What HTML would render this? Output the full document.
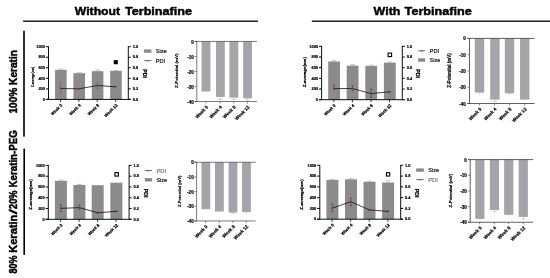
<!DOCTYPE html>
<html lang="en">
<head>
<meta charset="utf-8">
<title>Particle size, PDI and Z-potential stability</title>
<style>
html,body{margin:0;padding:0;background:#fff;}
body{width:550px;height:278px;overflow:hidden;font-family:'Liberation Sans', sans-serif;}
svg{display:block;font-family:'Liberation Sans', sans-serif;}
</style>
</head>
<body>
<svg width="550" height="278" viewBox="0 0 550 278">
<rect x="0" y="0" width="550" height="278" fill="#fff"/>
<rect x="55.05" y="69.80" width="11.60" height="29.60" fill="#8b8b8b"/>
<line x1="60.85" y1="69.80" x2="60.85" y2="68.90" stroke="#888" stroke-width="0.45" stroke-linecap="butt"/>
<line x1="58.25" y1="68.90" x2="63.45" y2="68.90" stroke="#888" stroke-width="0.45" stroke-linecap="butt"/>
<rect x="73.40" y="73.20" width="11.60" height="26.20" fill="#8b8b8b"/>
<line x1="79.20" y1="73.20" x2="79.20" y2="72.70" stroke="#888" stroke-width="0.45" stroke-linecap="butt"/>
<line x1="76.60" y1="72.70" x2="81.80" y2="72.70" stroke="#888" stroke-width="0.45" stroke-linecap="butt"/>
<rect x="91.80" y="71.20" width="11.60" height="28.20" fill="#8b8b8b"/>
<line x1="97.60" y1="71.20" x2="97.60" y2="70.10" stroke="#888" stroke-width="0.45" stroke-linecap="butt"/>
<line x1="95.00" y1="70.10" x2="100.20" y2="70.10" stroke="#888" stroke-width="0.45" stroke-linecap="butt"/>
<rect x="110.15" y="70.80" width="11.60" height="28.60" fill="#8b8b8b"/>
<line x1="115.95" y1="70.80" x2="115.95" y2="70.40" stroke="#888" stroke-width="0.45" stroke-linecap="butt"/>
<line x1="113.35" y1="70.40" x2="118.55" y2="70.40" stroke="#888" stroke-width="0.45" stroke-linecap="butt"/>
<line x1="48.50" y1="46.30" x2="48.50" y2="99.80" stroke="#000" stroke-width="0.95" stroke-linecap="butt"/>
<line x1="128.30" y1="46.30" x2="128.30" y2="99.80" stroke="#000" stroke-width="0.95" stroke-linecap="butt"/>
<line x1="45.90" y1="99.40" x2="130.70" y2="99.40" stroke="#000" stroke-width="0.95" stroke-linecap="butt"/>
<line x1="45.90" y1="99.40" x2="48.50" y2="99.40" stroke="#000" stroke-width="1.0" stroke-linecap="butt"/>
<text x="44.90" y="100.61" font-size="3.9" font-weight="bold" text-anchor="end" fill="#000" stroke="#000" stroke-width="0.20" stroke-linejoin="round">0</text>
<line x1="45.90" y1="88.86" x2="48.50" y2="88.86" stroke="#000" stroke-width="1.0" stroke-linecap="butt"/>
<text x="44.90" y="90.07" font-size="3.9" font-weight="bold" text-anchor="end" fill="#000" stroke="#000" stroke-width="0.20" stroke-linejoin="round">200</text>
<line x1="45.90" y1="78.32" x2="48.50" y2="78.32" stroke="#000" stroke-width="1.0" stroke-linecap="butt"/>
<text x="44.90" y="79.53" font-size="3.9" font-weight="bold" text-anchor="end" fill="#000" stroke="#000" stroke-width="0.20" stroke-linejoin="round">400</text>
<line x1="45.90" y1="67.78" x2="48.50" y2="67.78" stroke="#000" stroke-width="1.0" stroke-linecap="butt"/>
<text x="44.90" y="68.99" font-size="3.9" font-weight="bold" text-anchor="end" fill="#000" stroke="#000" stroke-width="0.20" stroke-linejoin="round">600</text>
<line x1="45.90" y1="57.24" x2="48.50" y2="57.24" stroke="#000" stroke-width="1.0" stroke-linecap="butt"/>
<text x="44.90" y="58.45" font-size="3.9" font-weight="bold" text-anchor="end" fill="#000" stroke="#000" stroke-width="0.20" stroke-linejoin="round">800</text>
<line x1="45.90" y1="46.70" x2="48.50" y2="46.70" stroke="#000" stroke-width="1.0" stroke-linecap="butt"/>
<text x="44.90" y="47.91" font-size="3.9" font-weight="bold" text-anchor="end" fill="#000" stroke="#000" stroke-width="0.20" stroke-linejoin="round">1000</text>
<line x1="128.30" y1="99.40" x2="130.70" y2="99.40" stroke="#000" stroke-width="1.0" stroke-linecap="butt"/>
<text x="132.70" y="100.61" font-size="3.9" font-weight="bold" text-anchor="start" fill="#000" stroke="#000" stroke-width="0.20" stroke-linejoin="round">0.0</text>
<line x1="128.30" y1="88.86" x2="130.70" y2="88.86" stroke="#000" stroke-width="1.0" stroke-linecap="butt"/>
<text x="132.70" y="90.07" font-size="3.9" font-weight="bold" text-anchor="start" fill="#000" stroke="#000" stroke-width="0.20" stroke-linejoin="round">0.2</text>
<line x1="128.30" y1="78.32" x2="130.70" y2="78.32" stroke="#000" stroke-width="1.0" stroke-linecap="butt"/>
<text x="132.70" y="79.53" font-size="3.9" font-weight="bold" text-anchor="start" fill="#000" stroke="#000" stroke-width="0.20" stroke-linejoin="round">0.4</text>
<line x1="128.30" y1="67.78" x2="130.70" y2="67.78" stroke="#000" stroke-width="1.0" stroke-linecap="butt"/>
<text x="132.70" y="68.99" font-size="3.9" font-weight="bold" text-anchor="start" fill="#000" stroke="#000" stroke-width="0.20" stroke-linejoin="round">0.6</text>
<line x1="128.30" y1="57.24" x2="130.70" y2="57.24" stroke="#000" stroke-width="1.0" stroke-linecap="butt"/>
<text x="132.70" y="58.45" font-size="3.9" font-weight="bold" text-anchor="start" fill="#000" stroke="#000" stroke-width="0.20" stroke-linejoin="round">0.8</text>
<line x1="128.30" y1="46.70" x2="130.70" y2="46.70" stroke="#000" stroke-width="1.0" stroke-linecap="butt"/>
<text x="132.70" y="47.91" font-size="3.9" font-weight="bold" text-anchor="start" fill="#000" stroke="#000" stroke-width="0.20" stroke-linejoin="round">1.0</text>
<line x1="60.50" y1="99.40" x2="60.50" y2="101.90" stroke="#000" stroke-width="0.8" stroke-linecap="butt"/>
<text x="62.70" y="105.60" font-size="4.2" font-weight="bold" text-anchor="end" fill="#000" transform="rotate(-45 62.70 105.60)" stroke="#000" stroke-width="0.21" stroke-linejoin="round">Week 0</text>
<line x1="78.90" y1="99.40" x2="78.90" y2="101.90" stroke="#000" stroke-width="0.8" stroke-linecap="butt"/>
<text x="81.10" y="105.60" font-size="4.2" font-weight="bold" text-anchor="end" fill="#000" transform="rotate(-45 81.10 105.60)" stroke="#000" stroke-width="0.21" stroke-linejoin="round">Week 4</text>
<line x1="97.30" y1="99.40" x2="97.30" y2="101.90" stroke="#000" stroke-width="0.8" stroke-linecap="butt"/>
<text x="99.50" y="105.60" font-size="4.2" font-weight="bold" text-anchor="end" fill="#000" transform="rotate(-45 99.50 105.60)" stroke="#000" stroke-width="0.21" stroke-linejoin="round">Week 8</text>
<line x1="115.70" y1="99.40" x2="115.70" y2="101.90" stroke="#000" stroke-width="0.8" stroke-linecap="butt"/>
<text x="117.90" y="105.60" font-size="4.2" font-weight="bold" text-anchor="end" fill="#000" transform="rotate(-45 117.90 105.60)" stroke="#000" stroke-width="0.21" stroke-linejoin="round">Week 12</text>
<line x1="60.50" y1="83.10" x2="60.50" y2="93.50" stroke="#5a5a5a" stroke-width="0.5" stroke-linecap="butt"/>
<line x1="59.50" y1="83.10" x2="61.50" y2="83.10" stroke="#5a5a5a" stroke-width="0.45" stroke-linecap="butt"/>
<line x1="59.50" y1="93.50" x2="61.50" y2="93.50" stroke="#5a5a5a" stroke-width="0.45" stroke-linecap="butt"/>
<line x1="78.80" y1="88.20" x2="78.80" y2="89.40" stroke="#5a5a5a" stroke-width="0.5" stroke-linecap="butt"/>
<line x1="77.80" y1="88.20" x2="79.80" y2="88.20" stroke="#5a5a5a" stroke-width="0.45" stroke-linecap="butt"/>
<line x1="77.80" y1="89.40" x2="79.80" y2="89.40" stroke="#5a5a5a" stroke-width="0.45" stroke-linecap="butt"/>
<line x1="97.50" y1="82.30" x2="97.50" y2="88.80" stroke="#5a5a5a" stroke-width="0.5" stroke-linecap="butt"/>
<line x1="96.50" y1="82.30" x2="98.50" y2="82.30" stroke="#5a5a5a" stroke-width="0.45" stroke-linecap="butt"/>
<line x1="96.50" y1="88.80" x2="98.50" y2="88.80" stroke="#5a5a5a" stroke-width="0.45" stroke-linecap="butt"/>
<line x1="115.60" y1="86.20" x2="115.60" y2="87.40" stroke="#5a5a5a" stroke-width="0.5" stroke-linecap="butt"/>
<line x1="114.60" y1="86.20" x2="116.60" y2="86.20" stroke="#5a5a5a" stroke-width="0.45" stroke-linecap="butt"/>
<line x1="114.60" y1="87.40" x2="116.60" y2="87.40" stroke="#5a5a5a" stroke-width="0.45" stroke-linecap="butt"/>
<polyline points="60.50,88.50 78.80,88.80 97.50,85.50 115.60,86.80" fill="none" stroke="#111" stroke-width="0.8"/>
<circle cx="60.50" cy="88.50" r="0.8" fill="#d8141f"/>
<circle cx="78.80" cy="88.80" r="0.8" fill="#d8141f"/>
<circle cx="97.50" cy="85.50" r="0.8" fill="#d8141f"/>
<circle cx="115.60" cy="86.80" r="0.8" fill="#d8141f"/>
<rect x="113.75" y="60.15" width="4.10" height="4.10" fill="#000"/>
<text x="33.50" y="77.00" font-size="2.9" font-weight="bold" text-anchor="middle" fill="#000" transform="rotate(-90 33.50 77.00)" stroke="#000" stroke-width="0.14" stroke-linejoin="round">Z-average(nm)</text>
<text x="142.90" y="73.60" font-size="5.2" font-weight="bold" text-anchor="middle" fill="#000" transform="rotate(90 142.90 73.60)" stroke="#000" stroke-width="0.26" stroke-linejoin="round">PDI</text>
<rect x="143.90" y="49.40" width="7.50" height="3.40" fill="#8b8b8b"/>
<text x="155.80" y="53.10" font-size="5.6" font-weight="normal" text-anchor="start" fill="#111" stroke="#111" stroke-width="0.18" stroke-linejoin="round">Size</text>
<line x1="143.90" y1="60.60" x2="151.40" y2="60.60" stroke="#333" stroke-width="0.7" stroke-linecap="butt"/>
<circle cx="147.65" cy="60.80" r="0.8" fill="#e8101c"/>
<text x="155.80" y="62.60" font-size="5.6" font-weight="normal" text-anchor="start" fill="#111" stroke="#111" stroke-width="0.18" stroke-linejoin="round">PDI</text>
<rect x="328.20" y="61.50" width="11.80" height="38.20" fill="#8b8b8b"/>
<line x1="334.10" y1="61.50" x2="334.10" y2="60.40" stroke="#888" stroke-width="0.45" stroke-linecap="butt"/>
<line x1="331.50" y1="60.40" x2="336.70" y2="60.40" stroke="#888" stroke-width="0.45" stroke-linecap="butt"/>
<rect x="346.70" y="65.60" width="11.80" height="34.10" fill="#8b8b8b"/>
<line x1="352.60" y1="65.60" x2="352.60" y2="64.60" stroke="#888" stroke-width="0.45" stroke-linecap="butt"/>
<line x1="350.00" y1="64.60" x2="355.20" y2="64.60" stroke="#888" stroke-width="0.45" stroke-linecap="butt"/>
<rect x="365.30" y="65.90" width="11.80" height="33.80" fill="#8b8b8b"/>
<line x1="371.20" y1="65.90" x2="371.20" y2="65.10" stroke="#888" stroke-width="0.45" stroke-linecap="butt"/>
<line x1="368.60" y1="65.10" x2="373.80" y2="65.10" stroke="#888" stroke-width="0.45" stroke-linecap="butt"/>
<rect x="383.90" y="62.70" width="11.80" height="37.00" fill="#8b8b8b"/>
<line x1="389.80" y1="62.70" x2="389.80" y2="62.00" stroke="#888" stroke-width="0.45" stroke-linecap="butt"/>
<line x1="387.20" y1="62.00" x2="392.40" y2="62.00" stroke="#888" stroke-width="0.45" stroke-linecap="butt"/>
<line x1="321.60" y1="45.90" x2="321.60" y2="100.10" stroke="#000" stroke-width="0.95" stroke-linecap="butt"/>
<line x1="402.30" y1="45.90" x2="402.30" y2="100.10" stroke="#000" stroke-width="0.95" stroke-linecap="butt"/>
<line x1="319.00" y1="99.70" x2="404.70" y2="99.70" stroke="#000" stroke-width="0.95" stroke-linecap="butt"/>
<line x1="319.00" y1="99.70" x2="321.60" y2="99.70" stroke="#000" stroke-width="1.0" stroke-linecap="butt"/>
<text x="318.00" y="100.91" font-size="3.9" font-weight="bold" text-anchor="end" fill="#000" stroke="#000" stroke-width="0.20" stroke-linejoin="round">0</text>
<line x1="319.00" y1="89.02" x2="321.60" y2="89.02" stroke="#000" stroke-width="1.0" stroke-linecap="butt"/>
<text x="318.00" y="90.23" font-size="3.9" font-weight="bold" text-anchor="end" fill="#000" stroke="#000" stroke-width="0.20" stroke-linejoin="round">200</text>
<line x1="319.00" y1="78.34" x2="321.60" y2="78.34" stroke="#000" stroke-width="1.0" stroke-linecap="butt"/>
<text x="318.00" y="79.55" font-size="3.9" font-weight="bold" text-anchor="end" fill="#000" stroke="#000" stroke-width="0.20" stroke-linejoin="round">400</text>
<line x1="319.00" y1="67.66" x2="321.60" y2="67.66" stroke="#000" stroke-width="1.0" stroke-linecap="butt"/>
<text x="318.00" y="68.87" font-size="3.9" font-weight="bold" text-anchor="end" fill="#000" stroke="#000" stroke-width="0.20" stroke-linejoin="round">600</text>
<line x1="319.00" y1="56.98" x2="321.60" y2="56.98" stroke="#000" stroke-width="1.0" stroke-linecap="butt"/>
<text x="318.00" y="58.19" font-size="3.9" font-weight="bold" text-anchor="end" fill="#000" stroke="#000" stroke-width="0.20" stroke-linejoin="round">800</text>
<line x1="319.00" y1="46.30" x2="321.60" y2="46.30" stroke="#000" stroke-width="1.0" stroke-linecap="butt"/>
<text x="318.00" y="47.51" font-size="3.9" font-weight="bold" text-anchor="end" fill="#000" stroke="#000" stroke-width="0.20" stroke-linejoin="round">1000</text>
<line x1="402.30" y1="99.70" x2="404.70" y2="99.70" stroke="#000" stroke-width="1.0" stroke-linecap="butt"/>
<text x="406.70" y="100.91" font-size="3.9" font-weight="bold" text-anchor="start" fill="#000" stroke="#000" stroke-width="0.20" stroke-linejoin="round">0.0</text>
<line x1="402.30" y1="89.02" x2="404.70" y2="89.02" stroke="#000" stroke-width="1.0" stroke-linecap="butt"/>
<text x="406.70" y="90.23" font-size="3.9" font-weight="bold" text-anchor="start" fill="#000" stroke="#000" stroke-width="0.20" stroke-linejoin="round">0.2</text>
<line x1="402.30" y1="78.34" x2="404.70" y2="78.34" stroke="#000" stroke-width="1.0" stroke-linecap="butt"/>
<text x="406.70" y="79.55" font-size="3.9" font-weight="bold" text-anchor="start" fill="#000" stroke="#000" stroke-width="0.20" stroke-linejoin="round">0.4</text>
<line x1="402.30" y1="67.66" x2="404.70" y2="67.66" stroke="#000" stroke-width="1.0" stroke-linecap="butt"/>
<text x="406.70" y="68.87" font-size="3.9" font-weight="bold" text-anchor="start" fill="#000" stroke="#000" stroke-width="0.20" stroke-linejoin="round">0.6</text>
<line x1="402.30" y1="56.98" x2="404.70" y2="56.98" stroke="#000" stroke-width="1.0" stroke-linecap="butt"/>
<text x="406.70" y="58.19" font-size="3.9" font-weight="bold" text-anchor="start" fill="#000" stroke="#000" stroke-width="0.20" stroke-linejoin="round">0.8</text>
<line x1="402.30" y1="46.30" x2="404.70" y2="46.30" stroke="#000" stroke-width="1.0" stroke-linecap="butt"/>
<text x="406.70" y="47.51" font-size="3.9" font-weight="bold" text-anchor="start" fill="#000" stroke="#000" stroke-width="0.20" stroke-linejoin="round">1.0</text>
<line x1="333.80" y1="99.70" x2="333.80" y2="102.20" stroke="#000" stroke-width="0.8" stroke-linecap="butt"/>
<text x="336.00" y="105.90" font-size="4.2" font-weight="bold" text-anchor="end" fill="#000" transform="rotate(-45 336.00 105.90)" stroke="#000" stroke-width="0.21" stroke-linejoin="round">Week 0</text>
<line x1="352.40" y1="99.70" x2="352.40" y2="102.20" stroke="#000" stroke-width="0.8" stroke-linecap="butt"/>
<text x="354.60" y="105.90" font-size="4.2" font-weight="bold" text-anchor="end" fill="#000" transform="rotate(-45 354.60 105.90)" stroke="#000" stroke-width="0.21" stroke-linejoin="round">Week 4</text>
<line x1="371.00" y1="99.70" x2="371.00" y2="102.20" stroke="#000" stroke-width="0.8" stroke-linecap="butt"/>
<text x="373.20" y="105.90" font-size="4.2" font-weight="bold" text-anchor="end" fill="#000" transform="rotate(-45 373.20 105.90)" stroke="#000" stroke-width="0.21" stroke-linejoin="round">Week 8</text>
<line x1="389.50" y1="99.70" x2="389.50" y2="102.20" stroke="#000" stroke-width="0.8" stroke-linecap="butt"/>
<text x="391.70" y="105.90" font-size="4.2" font-weight="bold" text-anchor="end" fill="#000" transform="rotate(-45 391.70 105.90)" stroke="#000" stroke-width="0.21" stroke-linejoin="round">Week 12</text>
<line x1="333.90" y1="85.00" x2="333.90" y2="89.20" stroke="#2a2a2a" stroke-width="0.5" stroke-linecap="butt"/>
<line x1="332.90" y1="85.00" x2="334.90" y2="85.00" stroke="#2a2a2a" stroke-width="0.45" stroke-linecap="butt"/>
<line x1="332.90" y1="89.20" x2="334.90" y2="89.20" stroke="#2a2a2a" stroke-width="0.45" stroke-linecap="butt"/>
<line x1="352.50" y1="85.70" x2="352.50" y2="90.90" stroke="#2a2a2a" stroke-width="0.5" stroke-linecap="butt"/>
<line x1="351.50" y1="85.70" x2="353.50" y2="85.70" stroke="#2a2a2a" stroke-width="0.45" stroke-linecap="butt"/>
<line x1="351.50" y1="90.90" x2="353.50" y2="90.90" stroke="#2a2a2a" stroke-width="0.45" stroke-linecap="butt"/>
<line x1="371.10" y1="88.90" x2="371.10" y2="97.60" stroke="#2a2a2a" stroke-width="0.5" stroke-linecap="butt"/>
<line x1="370.10" y1="88.90" x2="372.10" y2="88.90" stroke="#2a2a2a" stroke-width="0.45" stroke-linecap="butt"/>
<line x1="370.10" y1="97.60" x2="372.10" y2="97.60" stroke="#2a2a2a" stroke-width="0.45" stroke-linecap="butt"/>
<line x1="389.60" y1="91.20" x2="389.60" y2="92.40" stroke="#2a2a2a" stroke-width="0.5" stroke-linecap="butt"/>
<line x1="388.60" y1="91.20" x2="390.60" y2="91.20" stroke="#2a2a2a" stroke-width="0.45" stroke-linecap="butt"/>
<line x1="388.60" y1="92.40" x2="390.60" y2="92.40" stroke="#2a2a2a" stroke-width="0.45" stroke-linecap="butt"/>
<polyline points="333.90,88.60 352.50,88.50 371.10,93.60 389.60,91.80" fill="none" stroke="#111" stroke-width="0.8"/>
<circle cx="333.90" cy="88.60" r="0.8" fill="#d8141f"/>
<circle cx="352.50" cy="88.50" r="0.8" fill="#d8141f"/>
<circle cx="371.10" cy="93.60" r="0.8" fill="#d8141f"/>
<circle cx="389.60" cy="91.80" r="0.8" fill="#d8141f"/>
<rect x="388.10" y="53.10" width="3.50" height="3.50" fill="#fff" stroke="#000" stroke-width="1.1"/>
<text x="306.20" y="72.20" font-size="4.4" font-weight="bold" text-anchor="middle" fill="#000" transform="rotate(-90 306.20 72.20)" stroke="#000" stroke-width="0.22" stroke-linejoin="round">Z-average(nm)</text>
<text x="416.00" y="73.60" font-size="5.2" font-weight="bold" text-anchor="middle" fill="#000" transform="rotate(90 416.00 73.60)" stroke="#000" stroke-width="0.26" stroke-linejoin="round">PDI</text>
<line x1="418.10" y1="50.80" x2="425.20" y2="50.80" stroke="#333" stroke-width="0.7" stroke-linecap="butt"/>
<circle cx="421.65" cy="51.00" r="0.8" fill="#e8101c"/>
<text x="429.60" y="52.80" font-size="6.0" font-weight="normal" text-anchor="start" fill="#111" textLength="9.60" lengthAdjust="spacingAndGlyphs" stroke="#111" stroke-width="0.18" stroke-linejoin="round">PDI</text>
<rect x="418.10" y="58.30" width="7.10" height="3.40" fill="#8b8b8b"/>
<text x="429.60" y="62.00" font-size="6.0" font-weight="normal" text-anchor="start" fill="#111" textLength="10.60" lengthAdjust="spacingAndGlyphs" stroke="#111" stroke-width="0.18" stroke-linejoin="round">Size</text>
<rect x="54.90" y="180.80" width="12.00" height="38.50" fill="#8b8b8b"/>
<line x1="60.90" y1="180.80" x2="60.90" y2="180.00" stroke="#888" stroke-width="0.45" stroke-linecap="butt"/>
<line x1="58.30" y1="180.00" x2="63.50" y2="180.00" stroke="#888" stroke-width="0.45" stroke-linecap="butt"/>
<rect x="73.40" y="185.00" width="12.00" height="34.30" fill="#8b8b8b"/>
<line x1="79.40" y1="185.00" x2="79.40" y2="184.30" stroke="#888" stroke-width="0.45" stroke-linecap="butt"/>
<line x1="76.80" y1="184.30" x2="82.00" y2="184.30" stroke="#888" stroke-width="0.45" stroke-linecap="butt"/>
<rect x="91.70" y="185.20" width="12.00" height="34.10" fill="#8b8b8b"/>
<rect x="110.35" y="182.70" width="12.00" height="36.60" fill="#8b8b8b"/>
<line x1="48.30" y1="165.00" x2="48.30" y2="219.70" stroke="#000" stroke-width="0.95" stroke-linecap="butt"/>
<line x1="129.10" y1="165.00" x2="129.10" y2="219.70" stroke="#000" stroke-width="0.95" stroke-linecap="butt"/>
<line x1="45.70" y1="219.30" x2="131.50" y2="219.30" stroke="#000" stroke-width="0.95" stroke-linecap="butt"/>
<line x1="45.70" y1="219.30" x2="48.30" y2="219.30" stroke="#000" stroke-width="1.0" stroke-linecap="butt"/>
<text x="44.70" y="220.51" font-size="3.9" font-weight="bold" text-anchor="end" fill="#000" stroke="#000" stroke-width="0.20" stroke-linejoin="round">0</text>
<line x1="45.70" y1="208.52" x2="48.30" y2="208.52" stroke="#000" stroke-width="1.0" stroke-linecap="butt"/>
<text x="44.70" y="209.73" font-size="3.9" font-weight="bold" text-anchor="end" fill="#000" stroke="#000" stroke-width="0.20" stroke-linejoin="round">200</text>
<line x1="45.70" y1="197.74" x2="48.30" y2="197.74" stroke="#000" stroke-width="1.0" stroke-linecap="butt"/>
<text x="44.70" y="198.95" font-size="3.9" font-weight="bold" text-anchor="end" fill="#000" stroke="#000" stroke-width="0.20" stroke-linejoin="round">400</text>
<line x1="45.70" y1="186.96" x2="48.30" y2="186.96" stroke="#000" stroke-width="1.0" stroke-linecap="butt"/>
<text x="44.70" y="188.17" font-size="3.9" font-weight="bold" text-anchor="end" fill="#000" stroke="#000" stroke-width="0.20" stroke-linejoin="round">600</text>
<line x1="45.70" y1="176.18" x2="48.30" y2="176.18" stroke="#000" stroke-width="1.0" stroke-linecap="butt"/>
<text x="44.70" y="177.39" font-size="3.9" font-weight="bold" text-anchor="end" fill="#000" stroke="#000" stroke-width="0.20" stroke-linejoin="round">800</text>
<line x1="45.70" y1="165.40" x2="48.30" y2="165.40" stroke="#000" stroke-width="1.0" stroke-linecap="butt"/>
<text x="44.70" y="166.61" font-size="3.9" font-weight="bold" text-anchor="end" fill="#000" stroke="#000" stroke-width="0.20" stroke-linejoin="round">1000</text>
<line x1="129.10" y1="219.30" x2="131.50" y2="219.30" stroke="#000" stroke-width="1.0" stroke-linecap="butt"/>
<text x="133.50" y="220.51" font-size="3.9" font-weight="bold" text-anchor="start" fill="#000" stroke="#000" stroke-width="0.20" stroke-linejoin="round">0.0</text>
<line x1="129.10" y1="208.52" x2="131.50" y2="208.52" stroke="#000" stroke-width="1.0" stroke-linecap="butt"/>
<text x="133.50" y="209.73" font-size="3.9" font-weight="bold" text-anchor="start" fill="#000" stroke="#000" stroke-width="0.20" stroke-linejoin="round">0.2</text>
<line x1="129.10" y1="197.74" x2="131.50" y2="197.74" stroke="#000" stroke-width="1.0" stroke-linecap="butt"/>
<text x="133.50" y="198.95" font-size="3.9" font-weight="bold" text-anchor="start" fill="#000" stroke="#000" stroke-width="0.20" stroke-linejoin="round">0.4</text>
<line x1="129.10" y1="186.96" x2="131.50" y2="186.96" stroke="#000" stroke-width="1.0" stroke-linecap="butt"/>
<text x="133.50" y="188.17" font-size="3.9" font-weight="bold" text-anchor="start" fill="#000" stroke="#000" stroke-width="0.20" stroke-linejoin="round">0.6</text>
<line x1="129.10" y1="176.18" x2="131.50" y2="176.18" stroke="#000" stroke-width="1.0" stroke-linecap="butt"/>
<text x="133.50" y="177.39" font-size="3.9" font-weight="bold" text-anchor="start" fill="#000" stroke="#000" stroke-width="0.20" stroke-linejoin="round">0.8</text>
<line x1="129.10" y1="165.40" x2="131.50" y2="165.40" stroke="#000" stroke-width="1.0" stroke-linecap="butt"/>
<text x="133.50" y="166.61" font-size="3.9" font-weight="bold" text-anchor="start" fill="#000" stroke="#000" stroke-width="0.20" stroke-linejoin="round">1.0</text>
<line x1="60.60" y1="219.30" x2="60.60" y2="221.80" stroke="#000" stroke-width="0.8" stroke-linecap="butt"/>
<text x="62.80" y="225.50" font-size="4.2" font-weight="bold" text-anchor="end" fill="#000" transform="rotate(-45 62.80 225.50)" stroke="#000" stroke-width="0.21" stroke-linejoin="round">Week 0</text>
<line x1="79.10" y1="219.30" x2="79.10" y2="221.80" stroke="#000" stroke-width="0.8" stroke-linecap="butt"/>
<text x="81.30" y="225.50" font-size="4.2" font-weight="bold" text-anchor="end" fill="#000" transform="rotate(-45 81.30 225.50)" stroke="#000" stroke-width="0.21" stroke-linejoin="round">Week 4</text>
<line x1="97.60" y1="219.30" x2="97.60" y2="221.80" stroke="#000" stroke-width="0.8" stroke-linecap="butt"/>
<text x="99.80" y="225.50" font-size="4.2" font-weight="bold" text-anchor="end" fill="#000" transform="rotate(-45 99.80 225.50)" stroke="#000" stroke-width="0.21" stroke-linejoin="round">Week 8</text>
<line x1="116.10" y1="219.30" x2="116.10" y2="221.80" stroke="#000" stroke-width="0.8" stroke-linecap="butt"/>
<text x="118.30" y="225.50" font-size="4.2" font-weight="bold" text-anchor="end" fill="#000" transform="rotate(-45 118.30 225.50)" stroke="#000" stroke-width="0.21" stroke-linejoin="round">Week 12</text>
<line x1="60.70" y1="204.60" x2="60.70" y2="211.50" stroke="#2a2a2a" stroke-width="0.5" stroke-linecap="butt"/>
<line x1="59.70" y1="204.60" x2="61.70" y2="204.60" stroke="#2a2a2a" stroke-width="0.45" stroke-linecap="butt"/>
<line x1="59.70" y1="211.50" x2="61.70" y2="211.50" stroke="#2a2a2a" stroke-width="0.45" stroke-linecap="butt"/>
<line x1="79.30" y1="205.20" x2="79.30" y2="209.30" stroke="#2a2a2a" stroke-width="0.5" stroke-linecap="butt"/>
<line x1="78.30" y1="205.20" x2="80.30" y2="205.20" stroke="#2a2a2a" stroke-width="0.45" stroke-linecap="butt"/>
<line x1="78.30" y1="209.30" x2="80.30" y2="209.30" stroke="#2a2a2a" stroke-width="0.45" stroke-linecap="butt"/>
<line x1="97.80" y1="212.30" x2="97.80" y2="213.30" stroke="#2a2a2a" stroke-width="0.5" stroke-linecap="butt"/>
<line x1="96.80" y1="212.30" x2="98.80" y2="212.30" stroke="#2a2a2a" stroke-width="0.45" stroke-linecap="butt"/>
<line x1="96.80" y1="213.30" x2="98.80" y2="213.30" stroke="#2a2a2a" stroke-width="0.45" stroke-linecap="butt"/>
<line x1="116.50" y1="210.80" x2="116.50" y2="211.80" stroke="#2a2a2a" stroke-width="0.5" stroke-linecap="butt"/>
<line x1="115.50" y1="210.80" x2="117.50" y2="210.80" stroke="#2a2a2a" stroke-width="0.45" stroke-linecap="butt"/>
<line x1="115.50" y1="211.80" x2="117.50" y2="211.80" stroke="#2a2a2a" stroke-width="0.45" stroke-linecap="butt"/>
<polyline points="60.70,208.40 79.30,207.60 97.80,212.80 116.50,211.30" fill="none" stroke="#111" stroke-width="0.8"/>
<circle cx="60.70" cy="208.40" r="0.8" fill="#d8141f"/>
<circle cx="79.30" cy="207.60" r="0.8" fill="#d8141f"/>
<circle cx="97.80" cy="212.80" r="0.8" fill="#d8141f"/>
<circle cx="116.50" cy="211.30" r="0.8" fill="#d8141f"/>
<rect x="114.90" y="172.60" width="3.50" height="3.50" fill="#fff" stroke="#000" stroke-width="1.1"/>
<text x="32.40" y="194.50" font-size="4.4" font-weight="bold" text-anchor="middle" fill="#000" transform="rotate(-90 32.40 194.50)" stroke="#000" stroke-width="0.22" stroke-linejoin="round">Z-average(nm)</text>
<text x="144.00" y="193.00" font-size="5.2" font-weight="bold" text-anchor="middle" fill="#000" transform="rotate(90 144.00 193.00)" stroke="#000" stroke-width="0.26" stroke-linejoin="round">PDI</text>
<line x1="144.80" y1="170.50" x2="152.00" y2="170.50" stroke="#333" stroke-width="0.7" stroke-linecap="butt"/>
<circle cx="148.40" cy="170.70" r="0.8" fill="#e8101c"/>
<text x="156.40" y="172.50" font-size="5.9" font-weight="normal" text-anchor="start" fill="#777" textLength="9.80" lengthAdjust="spacingAndGlyphs" stroke="#777" stroke-width="0.18" stroke-linejoin="round">PDI</text>
<rect x="144.80" y="178.10" width="7.20" height="3.40" fill="#8b8b8b"/>
<text x="156.40" y="181.80" font-size="5.9" font-weight="normal" text-anchor="start" fill="#111" textLength="10.70" lengthAdjust="spacingAndGlyphs" stroke="#111" stroke-width="0.18" stroke-linejoin="round">Size</text>
<rect x="326.40" y="179.90" width="12.00" height="39.30" fill="#8b8b8b"/>
<line x1="332.40" y1="179.90" x2="332.40" y2="179.30" stroke="#888" stroke-width="0.45" stroke-linecap="butt"/>
<line x1="329.80" y1="179.30" x2="335.00" y2="179.30" stroke="#888" stroke-width="0.45" stroke-linecap="butt"/>
<rect x="345.00" y="179.30" width="12.00" height="39.90" fill="#8b8b8b"/>
<line x1="351.00" y1="179.30" x2="351.00" y2="178.70" stroke="#888" stroke-width="0.45" stroke-linecap="butt"/>
<line x1="348.40" y1="178.70" x2="353.60" y2="178.70" stroke="#888" stroke-width="0.45" stroke-linecap="butt"/>
<rect x="363.50" y="181.80" width="12.00" height="37.40" fill="#8b8b8b"/>
<line x1="369.50" y1="181.80" x2="369.50" y2="181.20" stroke="#888" stroke-width="0.45" stroke-linecap="butt"/>
<line x1="366.90" y1="181.20" x2="372.10" y2="181.20" stroke="#888" stroke-width="0.45" stroke-linecap="butt"/>
<rect x="382.10" y="182.50" width="12.00" height="36.70" fill="#8b8b8b"/>
<line x1="388.10" y1="182.50" x2="388.10" y2="180.80" stroke="#888" stroke-width="0.45" stroke-linecap="butt"/>
<line x1="385.50" y1="180.80" x2="390.70" y2="180.80" stroke="#888" stroke-width="0.45" stroke-linecap="butt"/>
<line x1="319.80" y1="164.90" x2="319.80" y2="219.60" stroke="#000" stroke-width="0.95" stroke-linecap="butt"/>
<line x1="400.70" y1="164.90" x2="400.70" y2="219.60" stroke="#000" stroke-width="0.95" stroke-linecap="butt"/>
<line x1="317.20" y1="219.20" x2="403.10" y2="219.20" stroke="#000" stroke-width="0.95" stroke-linecap="butt"/>
<line x1="317.20" y1="219.20" x2="319.80" y2="219.20" stroke="#000" stroke-width="1.0" stroke-linecap="butt"/>
<text x="316.20" y="220.41" font-size="3.9" font-weight="bold" text-anchor="end" fill="#000" stroke="#000" stroke-width="0.20" stroke-linejoin="round">0</text>
<line x1="317.20" y1="208.42" x2="319.80" y2="208.42" stroke="#000" stroke-width="1.0" stroke-linecap="butt"/>
<text x="316.20" y="209.63" font-size="3.9" font-weight="bold" text-anchor="end" fill="#000" stroke="#000" stroke-width="0.20" stroke-linejoin="round">200</text>
<line x1="317.20" y1="197.64" x2="319.80" y2="197.64" stroke="#000" stroke-width="1.0" stroke-linecap="butt"/>
<text x="316.20" y="198.85" font-size="3.9" font-weight="bold" text-anchor="end" fill="#000" stroke="#000" stroke-width="0.20" stroke-linejoin="round">400</text>
<line x1="317.20" y1="186.86" x2="319.80" y2="186.86" stroke="#000" stroke-width="1.0" stroke-linecap="butt"/>
<text x="316.20" y="188.07" font-size="3.9" font-weight="bold" text-anchor="end" fill="#000" stroke="#000" stroke-width="0.20" stroke-linejoin="round">600</text>
<line x1="317.20" y1="176.08" x2="319.80" y2="176.08" stroke="#000" stroke-width="1.0" stroke-linecap="butt"/>
<text x="316.20" y="177.29" font-size="3.9" font-weight="bold" text-anchor="end" fill="#000" stroke="#000" stroke-width="0.20" stroke-linejoin="round">800</text>
<line x1="317.20" y1="165.30" x2="319.80" y2="165.30" stroke="#000" stroke-width="1.0" stroke-linecap="butt"/>
<text x="316.20" y="166.51" font-size="3.9" font-weight="bold" text-anchor="end" fill="#000" stroke="#000" stroke-width="0.20" stroke-linejoin="round">1000</text>
<line x1="400.70" y1="219.20" x2="403.10" y2="219.20" stroke="#000" stroke-width="1.0" stroke-linecap="butt"/>
<text x="405.10" y="220.41" font-size="3.9" font-weight="bold" text-anchor="start" fill="#000" stroke="#000" stroke-width="0.20" stroke-linejoin="round">0.0</text>
<line x1="400.70" y1="208.42" x2="403.10" y2="208.42" stroke="#000" stroke-width="1.0" stroke-linecap="butt"/>
<text x="405.10" y="209.63" font-size="3.9" font-weight="bold" text-anchor="start" fill="#000" stroke="#000" stroke-width="0.20" stroke-linejoin="round">0.2</text>
<line x1="400.70" y1="197.64" x2="403.10" y2="197.64" stroke="#000" stroke-width="1.0" stroke-linecap="butt"/>
<text x="405.10" y="198.85" font-size="3.9" font-weight="bold" text-anchor="start" fill="#000" stroke="#000" stroke-width="0.20" stroke-linejoin="round">0.4</text>
<line x1="400.70" y1="186.86" x2="403.10" y2="186.86" stroke="#000" stroke-width="1.0" stroke-linecap="butt"/>
<text x="405.10" y="188.07" font-size="3.9" font-weight="bold" text-anchor="start" fill="#000" stroke="#000" stroke-width="0.20" stroke-linejoin="round">0.6</text>
<line x1="400.70" y1="176.08" x2="403.10" y2="176.08" stroke="#000" stroke-width="1.0" stroke-linecap="butt"/>
<text x="405.10" y="177.29" font-size="3.9" font-weight="bold" text-anchor="start" fill="#000" stroke="#000" stroke-width="0.20" stroke-linejoin="round">0.8</text>
<line x1="400.70" y1="165.30" x2="403.10" y2="165.30" stroke="#000" stroke-width="1.0" stroke-linecap="butt"/>
<text x="405.10" y="166.51" font-size="3.9" font-weight="bold" text-anchor="start" fill="#000" stroke="#000" stroke-width="0.20" stroke-linejoin="round">1.0</text>
<line x1="332.10" y1="219.20" x2="332.10" y2="221.70" stroke="#000" stroke-width="0.8" stroke-linecap="butt"/>
<text x="334.30" y="225.40" font-size="4.2" font-weight="bold" text-anchor="end" fill="#000" transform="rotate(-45 334.30 225.40)" stroke="#000" stroke-width="0.21" stroke-linejoin="round">Week 0</text>
<line x1="350.70" y1="219.20" x2="350.70" y2="221.70" stroke="#000" stroke-width="0.8" stroke-linecap="butt"/>
<text x="352.90" y="225.40" font-size="4.2" font-weight="bold" text-anchor="end" fill="#000" transform="rotate(-45 352.90 225.40)" stroke="#000" stroke-width="0.21" stroke-linejoin="round">Week 4</text>
<line x1="369.30" y1="219.20" x2="369.30" y2="221.70" stroke="#000" stroke-width="0.8" stroke-linecap="butt"/>
<text x="371.50" y="225.40" font-size="4.2" font-weight="bold" text-anchor="end" fill="#000" transform="rotate(-45 371.50 225.40)" stroke="#000" stroke-width="0.21" stroke-linejoin="round">Week 8</text>
<line x1="387.90" y1="219.20" x2="387.90" y2="221.70" stroke="#000" stroke-width="0.8" stroke-linecap="butt"/>
<text x="390.10" y="225.40" font-size="4.2" font-weight="bold" text-anchor="end" fill="#000" transform="rotate(-45 390.10 225.40)" stroke="#000" stroke-width="0.21" stroke-linejoin="round">Week 12</text>
<line x1="332.20" y1="204.10" x2="332.20" y2="211.50" stroke="#2a2a2a" stroke-width="0.5" stroke-linecap="butt"/>
<line x1="331.20" y1="204.10" x2="333.20" y2="204.10" stroke="#2a2a2a" stroke-width="0.45" stroke-linecap="butt"/>
<line x1="331.20" y1="211.50" x2="333.20" y2="211.50" stroke="#2a2a2a" stroke-width="0.45" stroke-linecap="butt"/>
<line x1="350.80" y1="197.80" x2="350.80" y2="205.70" stroke="#2a2a2a" stroke-width="0.5" stroke-linecap="butt"/>
<line x1="349.80" y1="197.80" x2="351.80" y2="197.80" stroke="#2a2a2a" stroke-width="0.45" stroke-linecap="butt"/>
<line x1="349.80" y1="205.70" x2="351.80" y2="205.70" stroke="#2a2a2a" stroke-width="0.45" stroke-linecap="butt"/>
<line x1="369.30" y1="209.40" x2="369.30" y2="210.40" stroke="#2a2a2a" stroke-width="0.5" stroke-linecap="butt"/>
<line x1="368.30" y1="209.40" x2="370.30" y2="209.40" stroke="#2a2a2a" stroke-width="0.45" stroke-linecap="butt"/>
<line x1="368.30" y1="210.40" x2="370.30" y2="210.40" stroke="#2a2a2a" stroke-width="0.45" stroke-linecap="butt"/>
<line x1="388.05" y1="210.90" x2="388.05" y2="211.90" stroke="#2a2a2a" stroke-width="0.5" stroke-linecap="butt"/>
<line x1="387.05" y1="210.90" x2="389.05" y2="210.90" stroke="#2a2a2a" stroke-width="0.45" stroke-linecap="butt"/>
<line x1="387.05" y1="211.90" x2="389.05" y2="211.90" stroke="#2a2a2a" stroke-width="0.45" stroke-linecap="butt"/>
<polyline points="332.20,208.20 350.80,201.70 369.30,209.90 388.05,211.40" fill="none" stroke="#111" stroke-width="0.8"/>
<circle cx="332.20" cy="208.20" r="0.8" fill="#d8141f"/>
<circle cx="350.80" cy="201.70" r="0.8" fill="#d8141f"/>
<circle cx="369.30" cy="209.90" r="0.8" fill="#d8141f"/>
<circle cx="388.05" cy="211.40" r="0.8" fill="#d8141f"/>
<rect x="386.45" y="172.75" width="3.30" height="3.30" fill="#fff" stroke="#000" stroke-width="1.1"/>
<text x="302.90" y="194.50" font-size="4.4" font-weight="bold" text-anchor="middle" fill="#000" transform="rotate(-90 302.90 194.50)" stroke="#000" stroke-width="0.22" stroke-linejoin="round">Z-average(nm)</text>
<text x="415.00" y="193.00" font-size="5.2" font-weight="bold" text-anchor="middle" fill="#000" transform="rotate(90 415.00 193.00)" stroke="#000" stroke-width="0.26" stroke-linejoin="round">PDI</text>
<rect x="416.20" y="168.40" width="7.70" height="3.40" fill="#8b8b8b"/>
<text x="428.30" y="172.10" font-size="6.1" font-weight="normal" text-anchor="start" fill="#111" textLength="10.90" lengthAdjust="spacingAndGlyphs" stroke="#111" stroke-width="0.18" stroke-linejoin="round">Size</text>
<line x1="416.20" y1="179.60" x2="423.90" y2="179.60" stroke="#333" stroke-width="0.7" stroke-linecap="butt"/>
<circle cx="420.05" cy="179.80" r="0.8" fill="#e8101c"/>
<text x="428.30" y="181.60" font-size="6.1" font-weight="normal" text-anchor="start" fill="#777" textLength="9.50" lengthAdjust="spacingAndGlyphs" stroke="#777" stroke-width="0.18" stroke-linejoin="round">PDI</text>
<rect x="201.60" y="41.45" width="8.80" height="50.05" fill="#a4a4a9"/>
<rect x="216.00" y="41.45" width="8.80" height="55.45" fill="#a4a4a9"/>
<line x1="220.40" y1="96.90" x2="220.40" y2="99.50" stroke="#999" stroke-width="0.45" stroke-linecap="butt"/>
<line x1="217.90" y1="99.50" x2="222.90" y2="99.50" stroke="#999" stroke-width="0.45" stroke-linecap="butt"/>
<rect x="229.45" y="41.45" width="8.80" height="56.15" fill="#a4a4a9"/>
<line x1="233.85" y1="97.60" x2="233.85" y2="99.30" stroke="#999" stroke-width="0.45" stroke-linecap="butt"/>
<line x1="231.35" y1="99.30" x2="236.35" y2="99.30" stroke="#999" stroke-width="0.45" stroke-linecap="butt"/>
<rect x="243.15" y="41.45" width="8.80" height="56.95" fill="#a4a4a9"/>
<line x1="247.55" y1="98.40" x2="247.55" y2="100.00" stroke="#999" stroke-width="0.45" stroke-linecap="butt"/>
<line x1="245.05" y1="100.00" x2="250.05" y2="100.00" stroke="#999" stroke-width="0.45" stroke-linecap="butt"/>
<line x1="196.80" y1="41.15" x2="196.80" y2="101.80" stroke="#444" stroke-width="0.7" stroke-linecap="butt"/>
<line x1="194.60" y1="41.45" x2="256.90" y2="41.45" stroke="#444" stroke-width="0.7" stroke-linecap="butt"/>
<line x1="194.60" y1="101.50" x2="256.90" y2="101.50" stroke="#444" stroke-width="0.7" stroke-linecap="butt"/>
<line x1="194.60" y1="41.45" x2="196.80" y2="41.45" stroke="#444" stroke-width="0.6" stroke-linecap="butt"/>
<text x="193.90" y="43.52" font-size="4.6" font-weight="bold" text-anchor="end" fill="#111" stroke="#111" stroke-width="0.23" stroke-linejoin="round">0</text>
<line x1="194.60" y1="56.46" x2="196.80" y2="56.46" stroke="#444" stroke-width="0.6" stroke-linecap="butt"/>
<text x="193.90" y="58.53" font-size="4.6" font-weight="bold" text-anchor="end" fill="#111" stroke="#111" stroke-width="0.23" stroke-linejoin="round">-10</text>
<line x1="194.60" y1="71.47" x2="196.80" y2="71.47" stroke="#444" stroke-width="0.6" stroke-linecap="butt"/>
<text x="193.90" y="73.54" font-size="4.6" font-weight="bold" text-anchor="end" fill="#111" stroke="#111" stroke-width="0.23" stroke-linejoin="round">-20</text>
<line x1="194.60" y1="86.49" x2="196.80" y2="86.49" stroke="#444" stroke-width="0.6" stroke-linecap="butt"/>
<text x="193.90" y="88.56" font-size="4.6" font-weight="bold" text-anchor="end" fill="#111" stroke="#111" stroke-width="0.23" stroke-linejoin="round">-30</text>
<line x1="194.60" y1="101.50" x2="196.80" y2="101.50" stroke="#444" stroke-width="0.6" stroke-linecap="butt"/>
<text x="193.90" y="103.57" font-size="4.6" font-weight="bold" text-anchor="end" fill="#111" stroke="#111" stroke-width="0.23" stroke-linejoin="round">-40</text>
<line x1="206.00" y1="101.50" x2="206.00" y2="103.50" stroke="#444" stroke-width="0.6" stroke-linecap="butt"/>
<text x="208.40" y="107.50" font-size="4.65" font-weight="bold" text-anchor="end" fill="#111" transform="rotate(-45 208.40 107.50)" stroke="#111" stroke-width="0.23" stroke-linejoin="round">Week 0</text>
<line x1="220.00" y1="101.50" x2="220.00" y2="103.50" stroke="#444" stroke-width="0.6" stroke-linecap="butt"/>
<text x="222.40" y="107.50" font-size="4.65" font-weight="bold" text-anchor="end" fill="#111" transform="rotate(-45 222.40 107.50)" stroke="#111" stroke-width="0.23" stroke-linejoin="round">Week 4</text>
<line x1="233.70" y1="101.50" x2="233.70" y2="103.50" stroke="#444" stroke-width="0.6" stroke-linecap="butt"/>
<text x="236.10" y="107.50" font-size="4.65" font-weight="bold" text-anchor="end" fill="#111" transform="rotate(-45 236.10 107.50)" stroke="#111" stroke-width="0.23" stroke-linejoin="round">Week 8</text>
<line x1="247.50" y1="101.50" x2="247.50" y2="103.50" stroke="#444" stroke-width="0.6" stroke-linecap="butt"/>
<text x="249.90" y="107.50" font-size="4.65" font-weight="bold" text-anchor="end" fill="#111" transform="rotate(-45 249.90 107.50)" stroke="#111" stroke-width="0.23" stroke-linejoin="round">Week 12</text>
<text x="178.40" y="70.80" font-size="4.3" font-weight="bold" text-anchor="middle" fill="#111" transform="rotate(-90 178.40 70.80)" textLength="34.40" lengthAdjust="spacingAndGlyphs" stroke="#111" stroke-width="0.21" stroke-linejoin="round">Z-Potential (mV)</text>
<rect x="474.80" y="38.40" width="9.40" height="54.20" fill="#a4a4a9"/>
<line x1="479.50" y1="92.60" x2="479.50" y2="94.60" stroke="#999" stroke-width="0.45" stroke-linecap="butt"/>
<rect x="490.20" y="38.40" width="9.40" height="61.20" fill="#a4a4a9"/>
<line x1="494.90" y1="99.60" x2="494.90" y2="101.40" stroke="#999" stroke-width="0.45" stroke-linecap="butt"/>
<line x1="492.50" y1="101.40" x2="497.30" y2="101.40" stroke="#999" stroke-width="0.45" stroke-linecap="butt"/>
<rect x="504.80" y="38.40" width="9.40" height="54.80" fill="#a4a4a9"/>
<line x1="509.50" y1="93.20" x2="509.50" y2="93.70" stroke="#999" stroke-width="0.45" stroke-linecap="butt"/>
<line x1="507.50" y1="93.70" x2="511.50" y2="93.70" stroke="#999" stroke-width="0.45" stroke-linecap="butt"/>
<rect x="520.05" y="38.40" width="9.40" height="61.20" fill="#a4a4a9"/>
<line x1="524.75" y1="99.60" x2="524.75" y2="101.10" stroke="#999" stroke-width="0.45" stroke-linecap="butt"/>
<line x1="469.50" y1="38.10" x2="469.50" y2="103.80" stroke="#444" stroke-width="0.85" stroke-linecap="butt"/>
<line x1="467.30" y1="38.40" x2="534.60" y2="38.40" stroke="#444" stroke-width="0.85" stroke-linecap="butt"/>
<line x1="467.30" y1="103.50" x2="534.60" y2="103.50" stroke="#444" stroke-width="0.85" stroke-linecap="butt"/>
<line x1="467.30" y1="38.40" x2="469.50" y2="38.40" stroke="#444" stroke-width="0.6" stroke-linecap="butt"/>
<text x="465.80" y="40.47" font-size="4.6" font-weight="bold" text-anchor="end" fill="#111" stroke="#111" stroke-width="0.23" stroke-linejoin="round">0</text>
<line x1="467.30" y1="54.67" x2="469.50" y2="54.67" stroke="#444" stroke-width="0.6" stroke-linecap="butt"/>
<text x="465.80" y="56.74" font-size="4.6" font-weight="bold" text-anchor="end" fill="#111" stroke="#111" stroke-width="0.23" stroke-linejoin="round">-10</text>
<line x1="467.30" y1="70.95" x2="469.50" y2="70.95" stroke="#444" stroke-width="0.6" stroke-linecap="butt"/>
<text x="465.80" y="73.02" font-size="4.6" font-weight="bold" text-anchor="end" fill="#111" stroke="#111" stroke-width="0.23" stroke-linejoin="round">-20</text>
<line x1="467.30" y1="87.22" x2="469.50" y2="87.22" stroke="#444" stroke-width="0.6" stroke-linecap="butt"/>
<text x="465.80" y="89.29" font-size="4.6" font-weight="bold" text-anchor="end" fill="#111" stroke="#111" stroke-width="0.23" stroke-linejoin="round">-30</text>
<line x1="467.30" y1="103.50" x2="469.50" y2="103.50" stroke="#444" stroke-width="0.6" stroke-linecap="butt"/>
<text x="465.80" y="105.57" font-size="4.6" font-weight="bold" text-anchor="end" fill="#111" stroke="#111" stroke-width="0.23" stroke-linejoin="round">-40</text>
<line x1="479.50" y1="103.50" x2="479.50" y2="105.50" stroke="#444" stroke-width="0.6" stroke-linecap="butt"/>
<text x="481.90" y="109.50" font-size="4.65" font-weight="bold" text-anchor="end" fill="#111" transform="rotate(-45 481.90 109.50)" stroke="#111" stroke-width="0.23" stroke-linejoin="round">Week 0</text>
<line x1="494.50" y1="103.50" x2="494.50" y2="105.50" stroke="#444" stroke-width="0.6" stroke-linecap="butt"/>
<text x="496.90" y="109.50" font-size="4.65" font-weight="bold" text-anchor="end" fill="#111" transform="rotate(-45 496.90 109.50)" stroke="#111" stroke-width="0.23" stroke-linejoin="round">Week 4</text>
<line x1="509.50" y1="103.50" x2="509.50" y2="105.50" stroke="#444" stroke-width="0.6" stroke-linecap="butt"/>
<text x="511.90" y="109.50" font-size="4.65" font-weight="bold" text-anchor="end" fill="#111" transform="rotate(-45 511.90 109.50)" stroke="#111" stroke-width="0.23" stroke-linejoin="round">Week 8</text>
<line x1="524.60" y1="103.50" x2="524.60" y2="105.50" stroke="#444" stroke-width="0.6" stroke-linecap="butt"/>
<text x="527.00" y="109.50" font-size="4.65" font-weight="bold" text-anchor="end" fill="#111" transform="rotate(-45 527.00 109.50)" stroke="#111" stroke-width="0.23" stroke-linejoin="round">Week 12</text>
<text x="450.90" y="70.40" font-size="4.5" font-weight="bold" text-anchor="middle" fill="#111" transform="rotate(-90 450.90 70.40)" stroke="#111" stroke-width="0.23" stroke-linejoin="round">Z-Potential (mV)</text>
<rect x="201.45" y="162.25" width="8.80" height="46.95" fill="#a4a4a9"/>
<rect x="215.00" y="162.25" width="8.80" height="49.25" fill="#a4a4a9"/>
<rect x="228.60" y="162.25" width="8.80" height="50.25" fill="#a4a4a9"/>
<line x1="233.00" y1="212.50" x2="233.00" y2="213.30" stroke="#999" stroke-width="0.45" stroke-linecap="butt"/>
<line x1="231.00" y1="213.30" x2="235.00" y2="213.30" stroke="#999" stroke-width="0.45" stroke-linecap="butt"/>
<rect x="242.05" y="162.25" width="8.80" height="49.85" fill="#a4a4a9"/>
<line x1="246.45" y1="212.10" x2="246.45" y2="213.90" stroke="#999" stroke-width="0.45" stroke-linecap="butt"/>
<line x1="196.60" y1="161.95" x2="196.60" y2="221.25" stroke="#444" stroke-width="0.7" stroke-linecap="butt"/>
<line x1="194.40" y1="162.25" x2="255.60" y2="162.25" stroke="#444" stroke-width="0.7" stroke-linecap="butt"/>
<line x1="194.40" y1="220.95" x2="255.60" y2="220.95" stroke="#444" stroke-width="0.7" stroke-linecap="butt"/>
<line x1="194.40" y1="162.25" x2="196.60" y2="162.25" stroke="#444" stroke-width="0.6" stroke-linecap="butt"/>
<text x="193.70" y="164.32" font-size="4.6" font-weight="bold" text-anchor="end" fill="#111" stroke="#111" stroke-width="0.23" stroke-linejoin="round">0</text>
<line x1="194.40" y1="176.93" x2="196.60" y2="176.93" stroke="#444" stroke-width="0.6" stroke-linecap="butt"/>
<text x="193.70" y="179.00" font-size="4.6" font-weight="bold" text-anchor="end" fill="#111" stroke="#111" stroke-width="0.23" stroke-linejoin="round">-10</text>
<line x1="194.40" y1="191.60" x2="196.60" y2="191.60" stroke="#444" stroke-width="0.6" stroke-linecap="butt"/>
<text x="193.70" y="193.67" font-size="4.6" font-weight="bold" text-anchor="end" fill="#111" stroke="#111" stroke-width="0.23" stroke-linejoin="round">-20</text>
<line x1="194.40" y1="206.27" x2="196.60" y2="206.27" stroke="#444" stroke-width="0.6" stroke-linecap="butt"/>
<text x="193.70" y="208.34" font-size="4.6" font-weight="bold" text-anchor="end" fill="#111" stroke="#111" stroke-width="0.23" stroke-linejoin="round">-30</text>
<line x1="194.40" y1="220.95" x2="196.60" y2="220.95" stroke="#444" stroke-width="0.6" stroke-linecap="butt"/>
<text x="193.70" y="223.02" font-size="4.6" font-weight="bold" text-anchor="end" fill="#111" stroke="#111" stroke-width="0.23" stroke-linejoin="round">-40</text>
<line x1="205.50" y1="220.95" x2="205.50" y2="222.95" stroke="#444" stroke-width="0.6" stroke-linecap="butt"/>
<text x="207.90" y="226.95" font-size="4.65" font-weight="bold" text-anchor="end" fill="#111" transform="rotate(-45 207.90 226.95)" stroke="#111" stroke-width="0.23" stroke-linejoin="round">Week 0</text>
<line x1="219.30" y1="220.95" x2="219.30" y2="222.95" stroke="#444" stroke-width="0.6" stroke-linecap="butt"/>
<text x="221.70" y="226.95" font-size="4.65" font-weight="bold" text-anchor="end" fill="#111" transform="rotate(-45 221.70 226.95)" stroke="#111" stroke-width="0.23" stroke-linejoin="round">Week 4</text>
<line x1="232.90" y1="220.95" x2="232.90" y2="222.95" stroke="#444" stroke-width="0.6" stroke-linecap="butt"/>
<text x="235.30" y="226.95" font-size="4.65" font-weight="bold" text-anchor="end" fill="#111" transform="rotate(-45 235.30 226.95)" stroke="#111" stroke-width="0.23" stroke-linejoin="round">Week 8</text>
<line x1="246.30" y1="220.95" x2="246.30" y2="222.95" stroke="#444" stroke-width="0.6" stroke-linecap="butt"/>
<text x="248.70" y="226.95" font-size="4.65" font-weight="bold" text-anchor="end" fill="#111" transform="rotate(-45 248.70 226.95)" stroke="#111" stroke-width="0.23" stroke-linejoin="round">Week 12</text>
<text x="181.00" y="191.40" font-size="4.1" font-weight="bold" text-anchor="middle" fill="#111" transform="rotate(-90 181.00 191.40)" stroke="#111" stroke-width="0.20" stroke-linejoin="round">Z-Potential (mV)</text>
<rect x="475.25" y="159.60" width="9.20" height="59.30" fill="#a4a4a9"/>
<rect x="489.85" y="159.60" width="9.20" height="50.40" fill="#a4a4a9"/>
<line x1="494.45" y1="210.00" x2="494.45" y2="211.50" stroke="#999" stroke-width="0.45" stroke-linecap="butt"/>
<line x1="492.25" y1="211.50" x2="496.65" y2="211.50" stroke="#999" stroke-width="0.45" stroke-linecap="butt"/>
<rect x="504.15" y="159.60" width="9.20" height="55.20" fill="#a4a4a9"/>
<line x1="508.75" y1="214.80" x2="508.75" y2="215.80" stroke="#999" stroke-width="0.45" stroke-linecap="butt"/>
<rect x="518.65" y="159.60" width="9.20" height="57.30" fill="#a4a4a9"/>
<line x1="523.25" y1="216.90" x2="523.25" y2="219.10" stroke="#999" stroke-width="0.45" stroke-linecap="butt"/>
<line x1="521.05" y1="219.10" x2="525.45" y2="219.10" stroke="#999" stroke-width="0.45" stroke-linecap="butt"/>
<line x1="470.20" y1="159.30" x2="470.20" y2="222.55" stroke="#444" stroke-width="0.85" stroke-linecap="butt"/>
<line x1="468.00" y1="159.60" x2="533.20" y2="159.60" stroke="#444" stroke-width="0.85" stroke-linecap="butt"/>
<line x1="468.00" y1="222.25" x2="533.20" y2="222.25" stroke="#444" stroke-width="0.85" stroke-linecap="butt"/>
<line x1="468.00" y1="159.60" x2="470.20" y2="159.60" stroke="#444" stroke-width="0.6" stroke-linecap="butt"/>
<text x="466.80" y="161.67" font-size="4.6" font-weight="bold" text-anchor="end" fill="#111" stroke="#111" stroke-width="0.23" stroke-linejoin="round">0</text>
<line x1="468.00" y1="175.26" x2="470.20" y2="175.26" stroke="#444" stroke-width="0.6" stroke-linecap="butt"/>
<text x="466.80" y="177.33" font-size="4.6" font-weight="bold" text-anchor="end" fill="#111" stroke="#111" stroke-width="0.23" stroke-linejoin="round">-10</text>
<line x1="468.00" y1="190.93" x2="470.20" y2="190.93" stroke="#444" stroke-width="0.6" stroke-linecap="butt"/>
<text x="466.80" y="193.00" font-size="4.6" font-weight="bold" text-anchor="end" fill="#111" stroke="#111" stroke-width="0.23" stroke-linejoin="round">-20</text>
<line x1="468.00" y1="206.59" x2="470.20" y2="206.59" stroke="#444" stroke-width="0.6" stroke-linecap="butt"/>
<text x="466.80" y="208.66" font-size="4.6" font-weight="bold" text-anchor="end" fill="#111" stroke="#111" stroke-width="0.23" stroke-linejoin="round">-30</text>
<line x1="468.00" y1="222.25" x2="470.20" y2="222.25" stroke="#444" stroke-width="0.6" stroke-linecap="butt"/>
<text x="466.80" y="224.32" font-size="4.6" font-weight="bold" text-anchor="end" fill="#111" stroke="#111" stroke-width="0.23" stroke-linejoin="round">-40</text>
<line x1="479.60" y1="222.25" x2="479.60" y2="224.25" stroke="#444" stroke-width="0.6" stroke-linecap="butt"/>
<text x="482.00" y="228.25" font-size="4.65" font-weight="bold" text-anchor="end" fill="#111" transform="rotate(-45 482.00 228.25)" stroke="#111" stroke-width="0.23" stroke-linejoin="round">Week 0</text>
<line x1="494.30" y1="222.25" x2="494.30" y2="224.25" stroke="#444" stroke-width="0.6" stroke-linecap="butt"/>
<text x="496.70" y="228.25" font-size="4.65" font-weight="bold" text-anchor="end" fill="#111" transform="rotate(-45 496.70 228.25)" stroke="#111" stroke-width="0.23" stroke-linejoin="round">Week 4</text>
<line x1="508.40" y1="222.25" x2="508.40" y2="224.25" stroke="#444" stroke-width="0.6" stroke-linecap="butt"/>
<text x="510.80" y="228.25" font-size="4.65" font-weight="bold" text-anchor="end" fill="#111" transform="rotate(-45 510.80 228.25)" stroke="#111" stroke-width="0.23" stroke-linejoin="round">Week 8</text>
<line x1="523.20" y1="222.25" x2="523.20" y2="224.25" stroke="#444" stroke-width="0.6" stroke-linecap="butt"/>
<text x="525.60" y="228.25" font-size="4.65" font-weight="bold" text-anchor="end" fill="#111" transform="rotate(-45 525.60 228.25)" stroke="#111" stroke-width="0.23" stroke-linejoin="round">Week 12</text>
<text x="452.30" y="190.60" font-size="4.4" font-weight="bold" text-anchor="middle" fill="#111" transform="rotate(-90 452.30 190.60)" stroke="#111" stroke-width="0.22" stroke-linejoin="round">Z-Potential (mV)</text>
<text y="0" font-size="11.7" font-weight="bold" fill="#000" stroke="#000" stroke-width="0.45" stroke-linejoin="round" transform="translate(74.80 15.40)"><tspan x="0.00" font-weight="bold" textLength="45.30" lengthAdjust="spacingAndGlyphs">Without</tspan> <tspan x="50.10" font-weight="bold" textLength="67.20" lengthAdjust="spacingAndGlyphs">Terbinafine</tspan></text>
<text y="0" font-size="11.7" font-weight="bold" fill="#000" stroke="#000" stroke-width="0.45" stroke-linejoin="round" transform="translate(373.60 15.40)"><tspan x="0.00" font-weight="bold" textLength="26.80" lengthAdjust="spacingAndGlyphs">With</tspan> <tspan x="31.00" font-weight="bold" textLength="67.20" lengthAdjust="spacingAndGlyphs">Terbinafine</tspan></text>
<rect x="23.10" y="20.55" width="234.80" height="1.30" fill="#000"/>
<rect x="311.80" y="20.55" width="238.20" height="1.30" fill="#000"/>
<rect x="23.20" y="30.80" width="1.60" height="105.80" fill="#000"/>
<rect x="23.40" y="148.60" width="1.60" height="106.30" fill="#000"/>
<text x="17.20" y="113.50" font-size="10.1" font-weight="bold" text-anchor="start" fill="#000" transform="rotate(-90 17.20 113.50)" stroke="#000" stroke-width="0.45" stroke-linejoin="round">100% Keratin</text>
<text y="0" font-size="10.08" font-weight="bold" fill="#000" stroke="#000" stroke-width="0.45" stroke-linejoin="round" transform="translate(16.90 273.60) rotate(-90)"><tspan x="0.00" font-weight="bold" textLength="18.00" lengthAdjust="spacingAndGlyphs">80%</tspan> <tspan x="20.80" font-weight="bold" textLength="38.20" lengthAdjust="spacingAndGlyphs">Keratin</tspan><tspan x="59.40" font-weight="normal" textLength="5.20" lengthAdjust="spacingAndGlyphs">/</tspan><tspan x="64.70" font-weight="bold" textLength="18.40" lengthAdjust="spacingAndGlyphs">20%</tspan> <tspan x="86.20" font-weight="bold" textLength="57.20" lengthAdjust="spacingAndGlyphs">Keratin-PEG</tspan></text>
</svg>
</body>
</html>
